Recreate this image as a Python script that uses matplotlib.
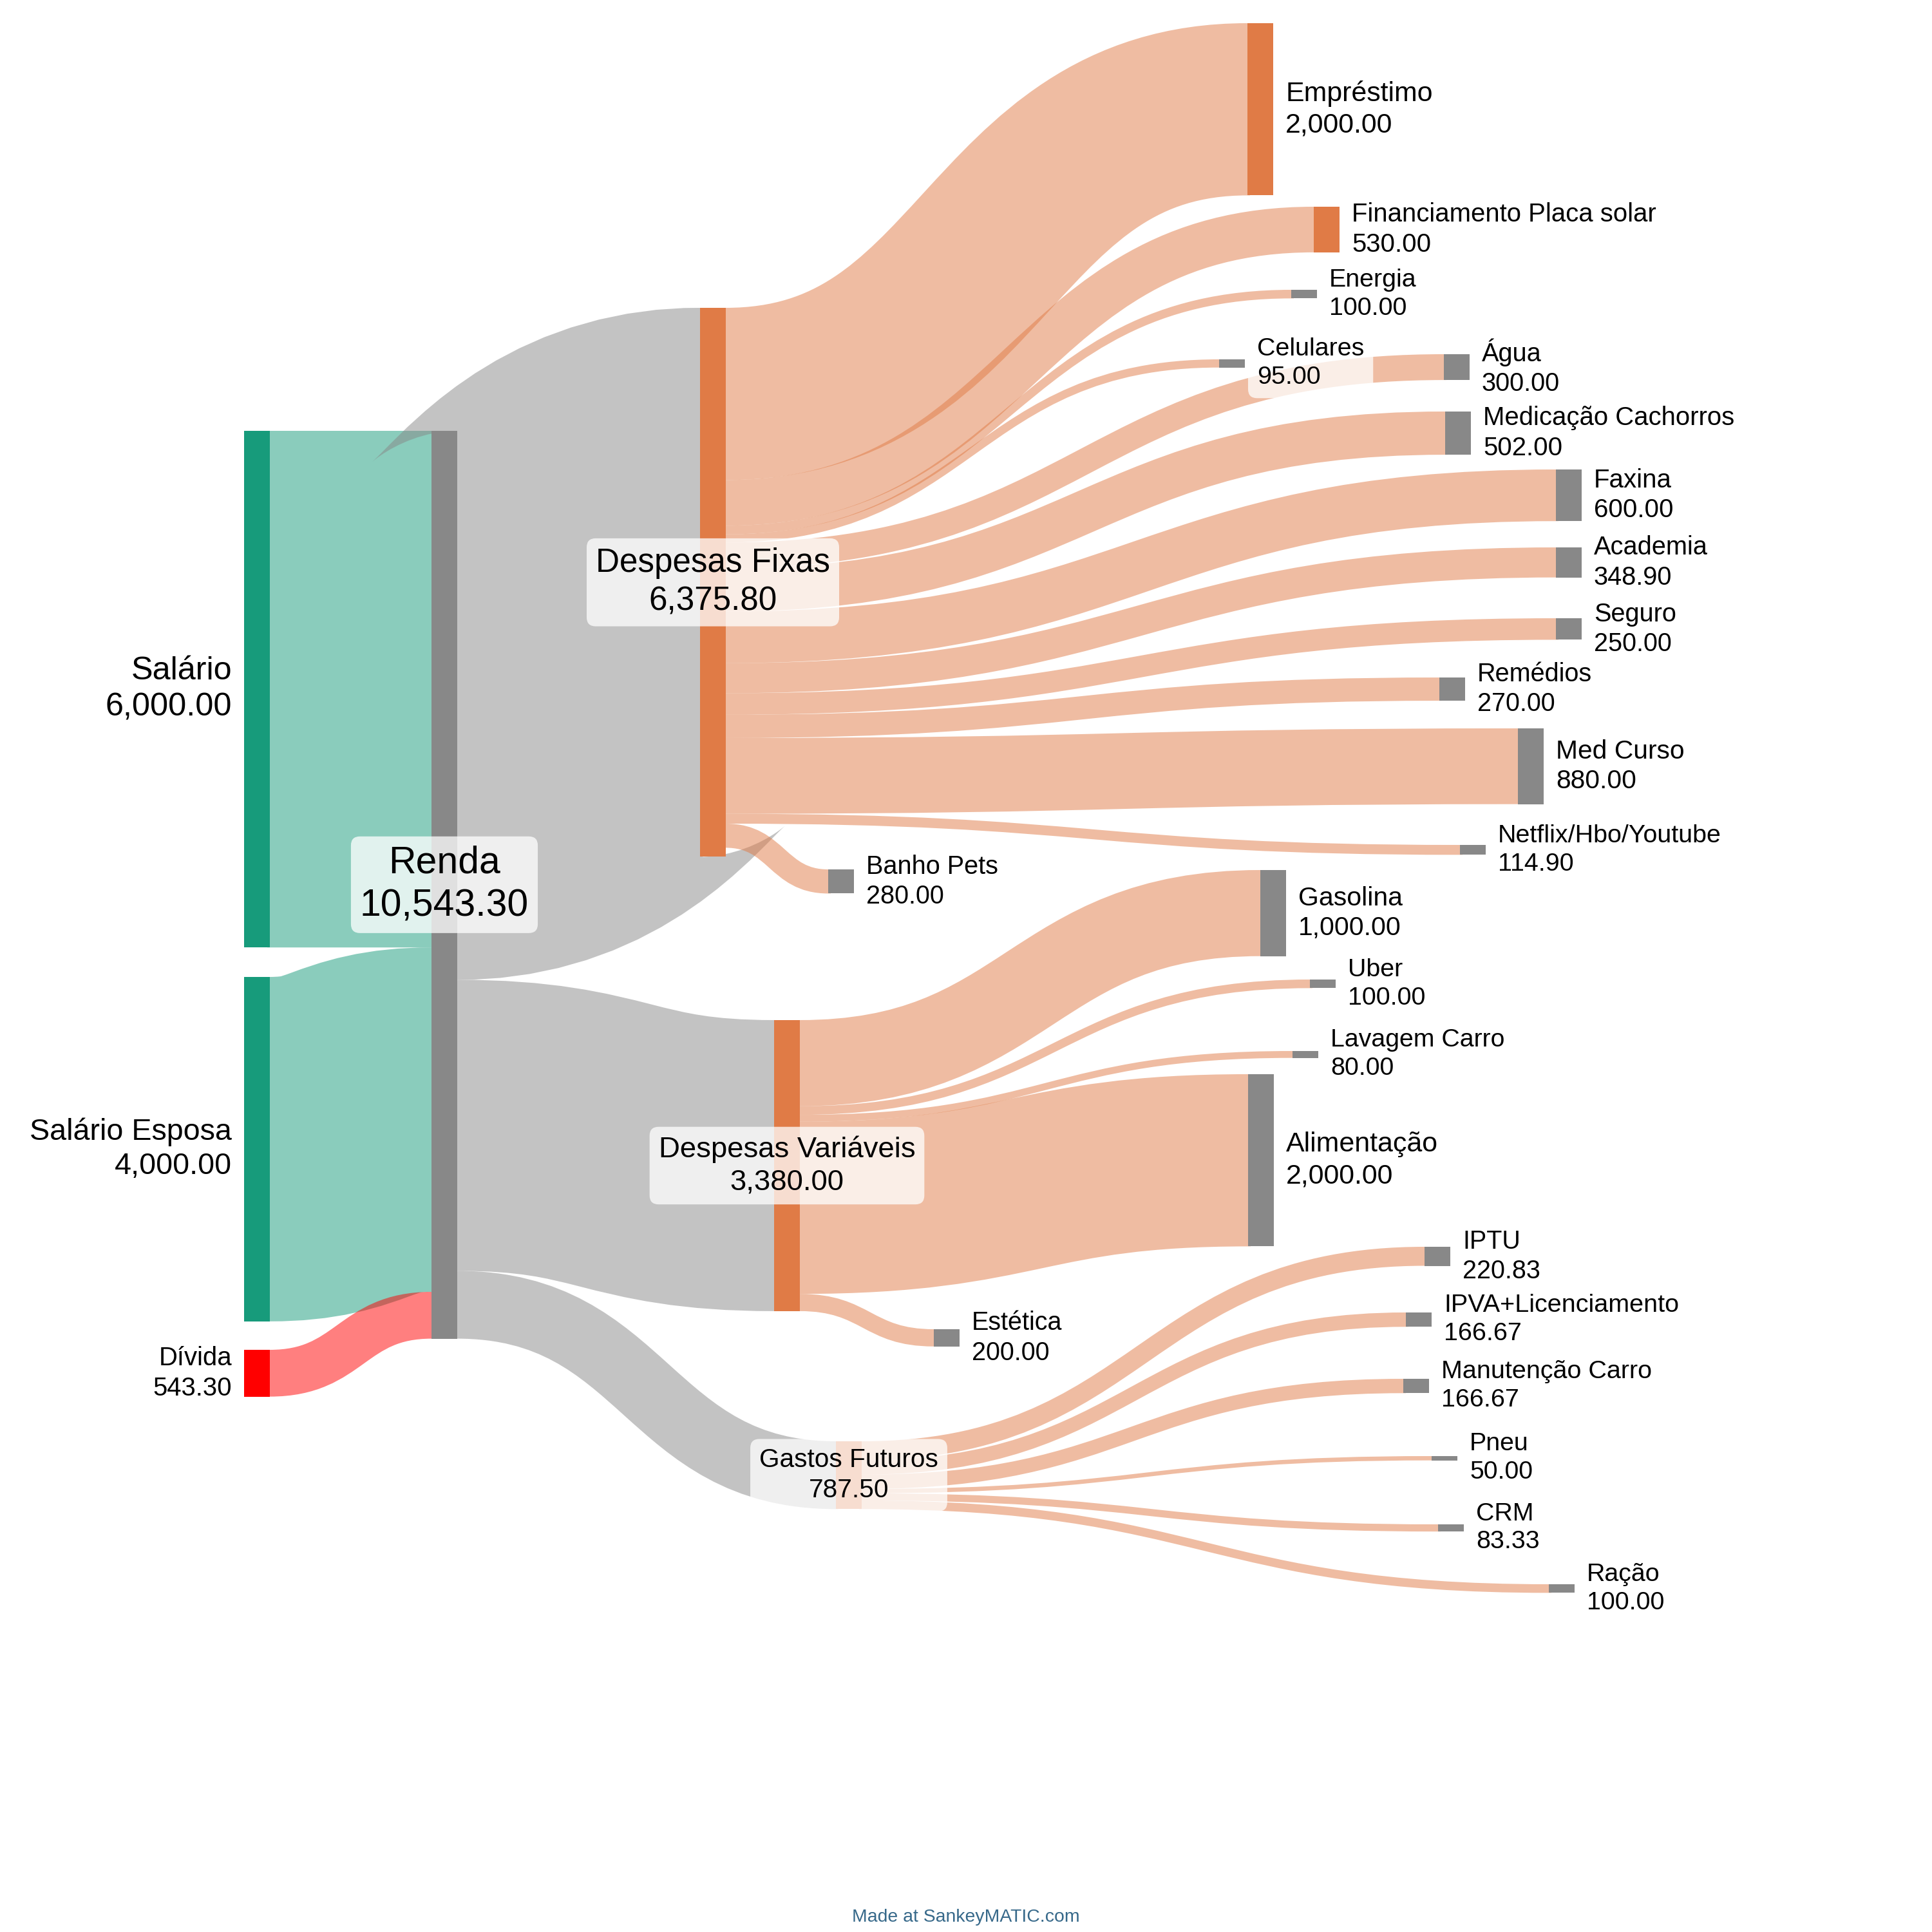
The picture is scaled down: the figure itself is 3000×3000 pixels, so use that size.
import matplotlib.pyplot as plt
from matplotlib.path import Path
from matplotlib.patches import PathPatch, Rectangle
from matplotlib.colors import to_rgba

plt.rcParams['font.family'] = ['Liberation Sans', 'DejaVu Sans']

### data: nodes and flows
nodeNames = ['Salário', 'Salário Esposa', 'Dívida', 'Renda',
             'Despesas Fixas', 'Despesas Variáveis', 'Gastos Futuros',
             'Empréstimo', 'Financiamento Placa solar', 'Energia', 'Celulares', 'Água',
             'Medicação Cachorros', 'Faxina', 'Academia', 'Seguro', 'Remédios',
             'Med Curso', 'Netflix/Hbo/Youtube', 'Banho Pets',
             'Gasolina', 'Uber', 'Lavagem Carro', 'Alimentação', 'Estética',
             'IPTU', 'IPVA+Licenciamento', 'Manutenção Carro', 'Pneu', 'CRM', 'Ração']

flowSource = ['Salário', 'Salário Esposa', 'Dívida',
              'Renda', 'Renda', 'Renda'] + ['Despesas Fixas'] * 13 + ['Despesas Variáveis'] * 5 + ['Gastos Futuros'] * 6
flowTarget = ['Renda', 'Renda', 'Renda',
              'Despesas Fixas', 'Despesas Variáveis', 'Gastos Futuros',
              'Empréstimo', 'Financiamento Placa solar', 'Energia', 'Celulares', 'Água',
              'Medicação Cachorros', 'Faxina', 'Academia', 'Seguro', 'Remédios',
              'Med Curso', 'Netflix/Hbo/Youtube', 'Banho Pets',
              'Gasolina', 'Uber', 'Lavagem Carro', 'Alimentação', 'Estética',
              'IPTU', 'IPVA+Licenciamento', 'Manutenção Carro', 'Pneu', 'CRM', 'Ração']
flowValue = [6000.00, 4000.00, 543.30,
             6375.80, 3380.00, 787.50,
             2000.00, 530.00, 100.00, 95.00, 300.00,
             502.00, 600.00, 348.90, 250.00, 270.00,
             880.00, 114.90, 280.00,
             1000.00, 100.00, 80.00, 2000.00, 200.00,
             220.83, 166.67, 166.67, 50.00, 83.33, 100.00]

### layout (pixels on a 3000 x 3000 canvas)
nodeX = [379, 379, 379, 670, 1087, 1202, 1298, 1937, 2040, 2005, 1893, 2242, 2244, 2416, 2416, 2416,
         2235, 2357, 2267, 1286, 1957, 2034, 2007, 1938, 1450, 2212, 2183, 2179, 2223, 2233, 2405]
nodeTop = [669, 1517, 2096, 669, 478, 1584, 2238, 36, 321, 450, 558, 550, 639, 729, 850, 960,
           1052, 1131, 1312, 1350, 1351, 1521, 1632, 1668, 2064, 1936, 2038, 2141, 2261, 2367, 2460]
nodeSide = ['left'] * 3 + ['center'] * 4 + ['right'] * 24

green, orange, grey, red = '#179b7b', '#e07b46', '#888888', '#ff0000'
nodeColor = [green, green, red, grey, orange, orange, orange, orange, orange] + [grey] * 22

nodeW = 40
pxPerUnit = 0.1337
dpi = 300


def main():
    idx = {n: i for i, n in enumerate(nodeNames)}
    inSum = [0.0] * len(nodeNames)
    outSum = [0.0] * len(nodeNames)
    for s, t, v in zip(flowSource, flowTarget, flowValue):
        outSum[idx[s]] += v
        inSum[idx[t]] += v
    nodeValue = [max(a, b) for a, b in zip(inSum, outSum)]

    fig = plt.figure(figsize=(10, 10), dpi=dpi)
    ax = fig.add_axes([0, 0, 1, 1])
    ax.set_xlim(0, 3000)
    ax.set_ylim(3000, 0)
    ax.axis('off')

    ### flows: thick stroked bezier curves (like the svg original)
    outOff = [0.0] * len(nodeNames)
    inOff = [0.0] * len(nodeNames)
    for s, t, v in zip(flowSource, flowTarget, flowValue):
        i, j = idx[s], idx[t]
        h = v * pxPerUnit
        x0 = nodeX[i] + nodeW
        x1 = nodeX[j]
        y0 = nodeTop[i] + outOff[i] + h / 2
        y1 = nodeTop[j] + inOff[j] + h / 2
        outOff[i] += h
        inOff[j] += h
        xm = (x0 + x1) / 2
        # short straight pieces tucked under the nodes hide the antialiasing seam
        path = Path([(x0 - 4, y0), (x0, y0), (xm, y0), (xm, y1), (x1, y1), (x1 + 4, y1)],
                    [Path.MOVETO, Path.LINETO, Path.CURVE4, Path.CURVE4, Path.CURVE4, Path.LINETO])
        ax.add_patch(PathPatch(path, fill=False, edgecolor=to_rgba(nodeColor[i], 0.5),
                               linewidth=h * 72 / dpi, capstyle='butt', joinstyle='round', zorder=1))

    ### nodes
    for i in range(len(nodeNames)):
        h = nodeValue[i] * pxPerUnit
        ax.add_patch(Rectangle((nodeX[i], nodeTop[i]), nodeW, h, facecolor=nodeColor[i],
                               edgecolor='none', zorder=2))

    ### labels
    for i, name in enumerate(nodeNames):
        h = nodeValue[i] * pxPerUnit
        cy = nodeTop[i] + h / 2
        fs = 9.4 + 0.00045 * nodeValue[i]
        pad = 14 / (fs * dpi / 72)
        txt = f'{name}\n{nodeValue[i]:,.2f}'
        if nodeSide[i] == 'left':
            x, ha = nodeX[i] - 19, 'right'
        elif nodeSide[i] == 'right':
            x, ha = nodeX[i] + nodeW + 19, 'left'
        else:
            x, ha = nodeX[i] + nodeW / 2, 'center'
        ax.text(x, cy, txt, fontsize=fs, ha=ha, va='center', multialignment=ha,
                linespacing=1.28, color='black', zorder=3,
                bbox=dict(boxstyle=f'round,pad={pad:.3f}', facecolor=(1, 1, 1, 0.75), edgecolor='none'))

    ax.text(1500, 2977, 'Made at SankeyMATIC.com', fontsize=6.8, ha='center', va='center', color='#37698a')

    fig.savefig('out.png', dpi=dpi)
    plt.close()


if __name__ == '__main__':
    main()
